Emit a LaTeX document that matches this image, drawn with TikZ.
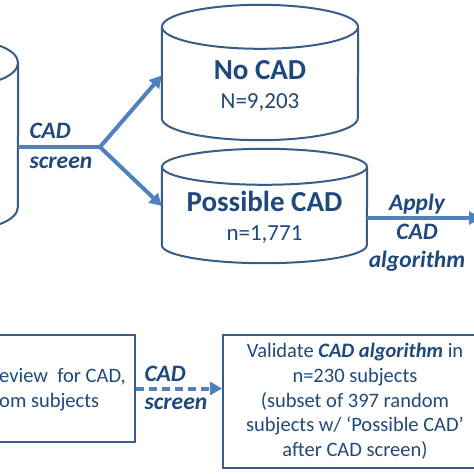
\documentclass[tikz,border=0pt]{standalone}
\usepackage{fontspec}
\setmainfont{Carlito}
\usetikzlibrary{arrows.meta}
\definecolor{rim}{RGB}{56,93,138}
\definecolor{flow}{RGB}{79,129,189}
\definecolor{ink}{RGB}{31,73,125}
% cylinder outline round a body node: name, half width, end radius
\newcommand{\canister}[3]{%
  \draw[rim,line width=2pt,fill=white] (#1.north west) -- (#1.south west)
    arc[start angle=180,end angle=360,x radius=#2pt,y radius=#3pt] -- (#1.north east);
  \draw[rim,line width=2pt,fill=white] (#1.north) ellipse[x radius=#2pt,y radius=#3pt];}
\begin{document}
\begin{tikzpicture}[x=1pt,y=-1pt,
  body/.style={rectangle,inner sep=0pt},
  box/.style={rectangle,draw=rim,line width=2pt,inner sep=0pt},
  conn/.style={draw=flow,line width=4pt,-{Triangle[length=12pt,width=13pt]}},
  cantext/.style={text=ink,align=center,font=\fontsize{23}{29}\selectfont},
  flowlbl/.style={text=ink,font=\fontsize{23.5}{28.5}\selectfont\bfseries\itshape},
  plain/.style={text=ink,font=\fontsize{20.5}{24.7}\selectfont}]
\clip (0,0) rectangle (474,474);
% cohorts
\node[body,minimum width=100pt,minimum height=144pt] (total) at (-32,135) {};
\node[body,minimum width=196pt,minimum height=91pt] (nocad) at (260,72.5) {};
\node[body,minimum width=205pt,minimum height=78pt] (poss) at (264.5,206) {};
\canister{total}{50}{22}
\canister{nocad}{98}{22}
\canister{poss}{102.5}{18}
\node[cantext] (nocadtxt) at (260,86) {{\fontsize{29}{29}\selectfont\bfseries No CAD}\\N=9,203};
\node[cantext] (posstxt) at (264.5,217) {{\fontsize{29}{29}\selectfont\bfseries Possible CAD}\\n=1,771};
% validation boxes
\node[box,minimum width=370pt,minimum height=107pt] (review) at (-50,388.5) {};
\node[plain,anchor=west,align=left,inner sep=0pt] (reviewtxt) at (-1,389.5) {eview~ for CAD,\\om subjects};
\node[box,plain,align=center,minimum width=264pt,minimum height=133pt] (validate) at (355,401.5)
  {Validate \textbf{\textit{CAD algorithm}} in\\n=230 subjects\\(subset of 397 random\\subjects w/ ‘Possible CAD’\\after CAD screen)};
% connectors
\coordinate (split) at (100,147);
\coordinate (algo) at (481,218);
\draw[conn,-] (split -| total.east) -- (split);
\draw[conn] (split) -- ([yshift=-3pt]nocad.west);
\draw[conn] (split) -- (poss.west);
\draw[conn] (poss.east |- algo) -- (algo);
\draw[conn,dash pattern=on 8pt off 5pt] (review.east) -- (review.east -| validate.west);
% labels
\node[flowlbl,anchor=west,align=left] (screentop) at (26,146) {CAD\\[2pt]screen};
\node[flowlbl,anchor=west,align=left] (screenlow) at (141,388) {CAD\\screen};
\node[flowlbl,align=center] (apply) at (417,233) {Apply\\CAD\\algorithm};
\end{tikzpicture}
\end{document}
